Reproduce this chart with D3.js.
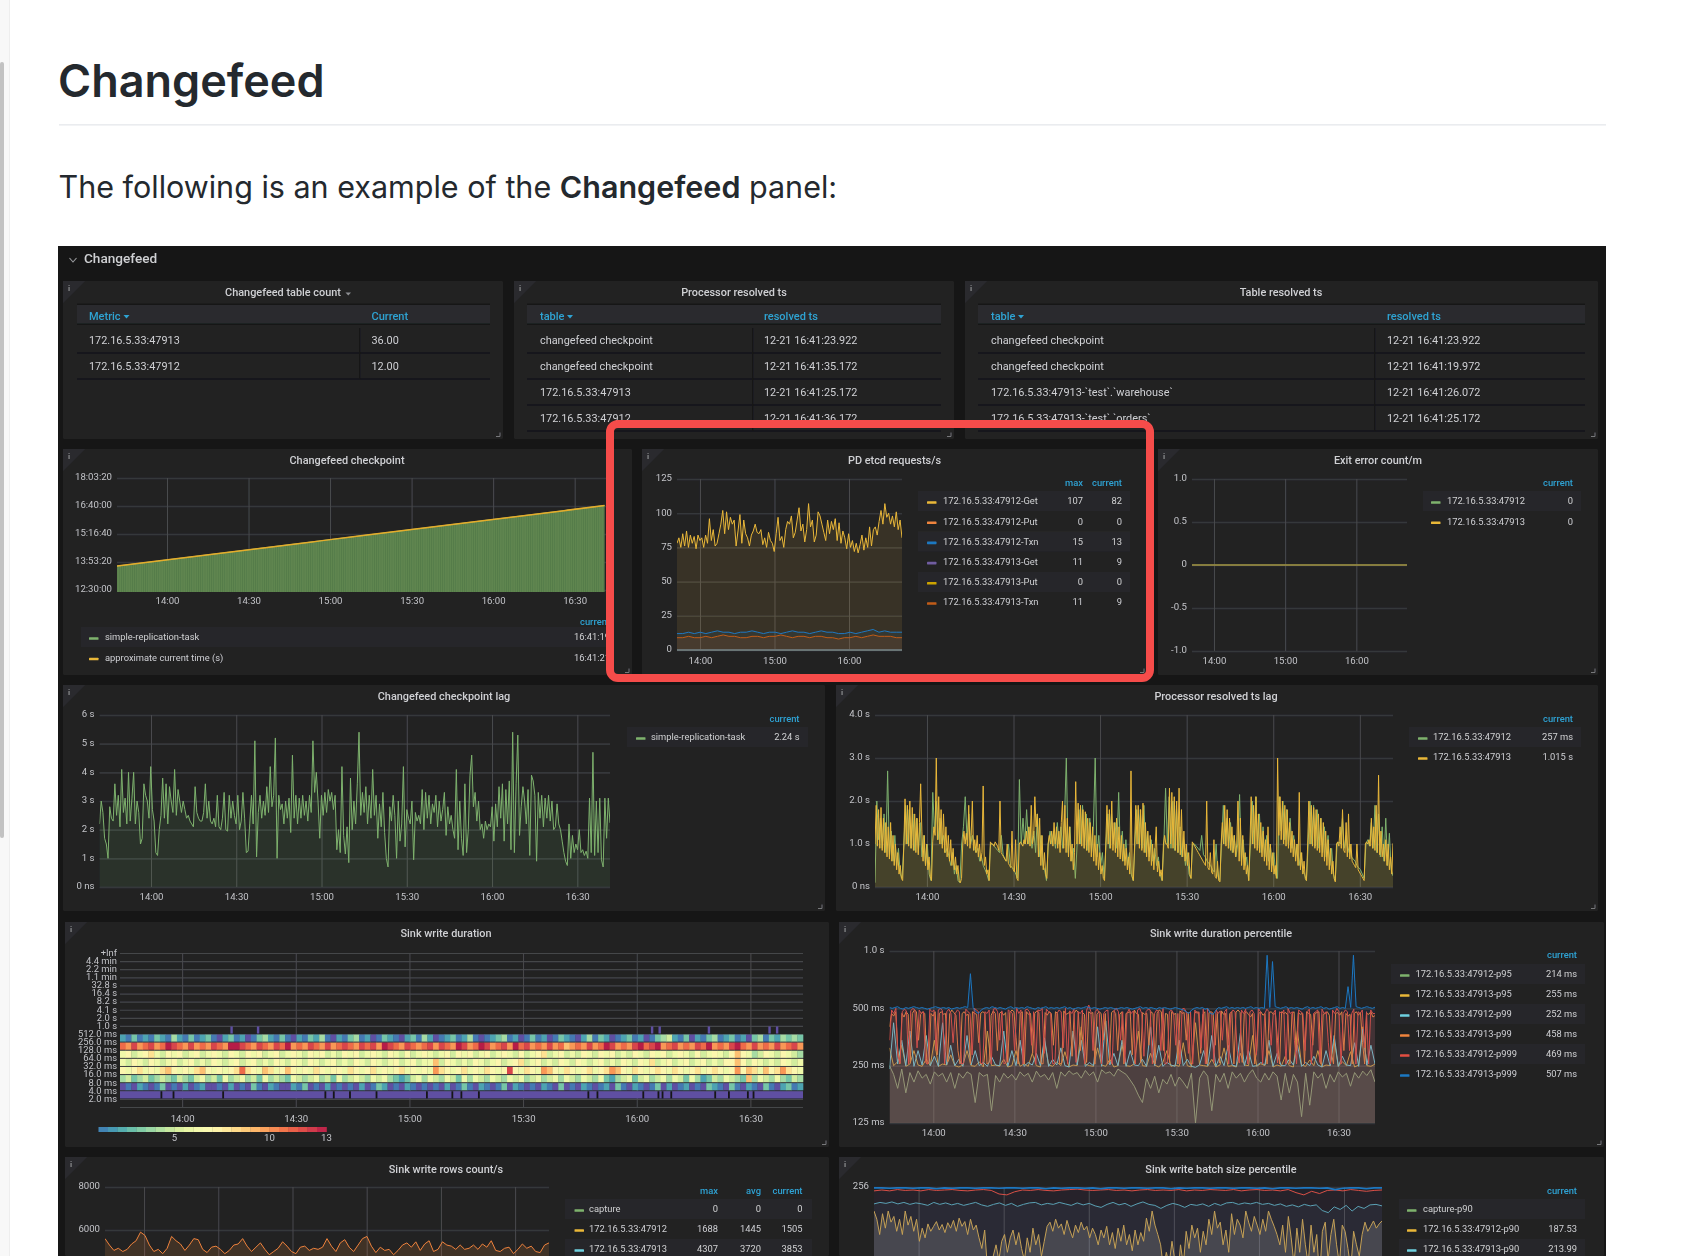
<!DOCTYPE html>
<html><head><meta charset="utf-8">
<script src="https://cdnjs.cloudflare.com/ajax/libs/d3/7.8.5/d3.min.js"></script>
<style>html,body{margin:0;padding:0;background:#fff;overflow:hidden}svg{display:block}text{font-family:Roboto,sans-serif}</style>
</head><body><svg id="c" width="1706" height="1256"></svg>
<script>
// ---------- DATA ----------
const tableCountRows=[["172.16.5.33:47913","36.00"],["172.16.5.33:47912","12.00"]];
const processorRows=[["changefeed checkpoint","12-21 16:41:23.922"],["changefeed checkpoint","12-21 16:41:35.172"],["172.16.5.33:47913","12-21 16:41:25.172"],["172.16.5.33:47912","12-21 16:41:36.172"]];
const tableRows=[["changefeed checkpoint","12-21 16:41:23.922"],["changefeed checkpoint","12-21 16:41:19.972"],["172.16.5.33:47913-`test`.`warehouse`","12-21 16:41:26.072"],["172.16.5.33:47913-`test`.`orders`","12-21 16:41:25.172"]];
const checkpointTask=[49270,50170,51070,51970,52870,53770,54670,55570,56470,57370,58270,59170,60079];
const checkpointNow=[49272,50172,51072,51972,52872,53772,54672,55572,56472,57372,58272,59172,60081];
const etcdGet=[78,82,75,85,76,87,75,84,78,83,74,84,80,82,75,84,78,96,80,88,76,78,85,92,102,85,101,88,97,92,95,76,87,99,78,95,85,82,76,84,87,92,86,85,88,77,82,75,86,80,78,72,85,97,80,83,75,88,94,92,98,82,86,95,104,87,92,79,88,107,90,95,79,84,101,98,92,86,80,95,85,94,88,96,80,93,78,87,82,74,85,75,80,72,78,71,77,84,73,82,75,90,76,88,90,84,94,102,92,107,97,100,92,98,90,101,88,95,82];
const etcdTxn12=[12,12,13,12,13,12,13,14,13,13,12,13,13,14,13,12,13,13,12,13,14,13,13,12,13,14,13,13,12,12,13,12,13,14,15,13,14,13,13,13];
const etcdTxn13=[9,9,10,9,9,10,9,10,11,10,10,9,9,10,10,9,10,10,11,10,9,10,10,9,10,10,9,9,8,9,9,10,9,10,11,10,10,10,9,9];
const etcdZero=[0,0];
const exitErr=[0,0];
const lagTask=[2.2,3.0,2.6,1.7,1.5,1.0,2.8,2.4,2.3,3.6,2.5,3.2,2.1,4.1,2.6,3.1,2.2,4.0,2.3,3.1,4.0,2.2,3.0,2.6,1.5,1.7,3.6,3.2,3.0,2.4,
4.2,2.7,2.3,1.2,1.1,2.0,2.5,3.8,2.4,3.6,2.2,3.5,3.0,2.6,4.1,2.5,3.4,3.0,2.6,3.0,2.7,2.4,2.5,2.3,2.2,2.1,3.5,2.6,2.4,2.3,
2.3,2.6,3.6,2.4,3.0,2.3,2.2,2.4,2.1,3.2,2.1,2.0,2.4,3.3,2.0,1.95,3.2,2.4,3.0,2.5,2.2,3.2,2.0,2.3,3.3,2.4,1.2,1.25,2.2,3.2,
2.2,5.1,1.05,2.6,3.2,2.4,3.0,2.5,3.5,2.6,4.2,2.8,3.2,5.2,1.0,3.2,2.7,2.9,2.2,3.0,2.4,3.1,1.9,4.6,2.4,3.2,2.2,3.1,2.4,3.2,
2.5,3.0,2.3,3.2,2.6,5.1,3.3,4.0,3.0,1.7,3.2,2.5,3.3,2.6,3.4,3.0,3.3,2.7,3.2,1.3,2.0,1.2,4.2,1.8,1.15,2.1,.85,3.8,2.0,3.0,
2.2,3.6,5.4,2.5,3.3,2.6,3.5,2.2,3.2,2.4,4.1,2.5,3.2,1.7,2.9,2.1,3.3,1.9,1.0,.7,2.8,2.3,3.2,2.5,1.0,3.0,1.6,2.2,4.2,1.4,
2.7,2.4,2.2,3.0,.95,2.6,2.3,2.5,2.2,3.4,2.0,3.3,2.4,3.2,2.2,2.9,2.6,3.2,2.1,3.0,2.3,2.7,3.3,1.8,2.8,2.2,2.5,2.0,1.7,4.1,
1.3,3.0,1.7,1.1,3.6,1.2,2.0,3.9,4.6,2.8,3.3,2.3,3.0,2.0,2.2,1.7,2.3,2.0,2.2,2.1,2.8,1.6,2.9,2.1,3.5,2.4,3.6,1.6,3.4,2.2,
3.7,1.3,5.4,1.2,3.6,5.3,1.8,2.8,3.5,3.0,2.2,3.4,1.1,3.9,3.7,3.2,.9,3.3,2.4,3.2,2.1,3.1,2.4,3.2,2.3,3.0,2.0,2.1,2.9,2.2,
2.0,1.6,1.2,.9,.75,2.2,1.0,1.8,1.2,1.5,1.3,2.0,1.2,1.3,1.1,1.25,1.0,3.1,1.2,4.7,1.1,3.0,1.2,3.1,.95,.7,3.1,1.7,3.1,2.24];
const procLag13=[1.0,1.9,0.95,1.8,0.9,1.85,0.85,1.6,0.8,1.5,0.7,1.4,0.65,1.5,0.6,1.2,0.5,1.0,0.4,0.8,0.3,0.5,0.2,0.15,
1.0,2.05,1.0,1.9,0.95,2.0,0.9,1.85,0.85,1.7,0.8,1.6,0.75,1.5,2.4,1.3,0.6,1.2,0.5,1.0,0.4,0.7,0.25,0.15,
1.05,1.4,1.2,3.0,1.1,2.1,1.0,1.8,0.9,1.7,0.8,1.4,0.7,1.2,0.6,1.1,0.5,0.9,0.4,0.7,0.3,0.5,0.15,0.1,
0.2,1.0,1.3,1.0,1.25,0.95,1.9,0.9,1.2,2.0,0.85,1.1,0.8,1.2,0.7,1.0,0.6,0.8,2.35,0.5,0.7,0.3,0.4,0.15,
1.05,1.0,1.0,0.95,1.05,1.0,0.95,0.85,2.0,0.8,0.75,0.7,0.65,0.6,1.0,0.55,0.5,0.45,1.3,0.4,0.35,1.1,0.2,0.15,
1.0,1.05,1.0,0.95,1.1,1.0,1.3,1.0,1.4,0.95,1.9,1.0,1.2,2.1,1.4,1.7,0.7,1.6,0.5,1.2,0.4,0.8,0.3,0.2,
1.0,1.2,1.0,1.3,0.95,1.5,1.0,1.4,0.9,1.3,0.8,1.5,2.0,0.9,1.9,0.8,1.6,0.7,1.4,0.6,1.0,0.4,0.8,2.45,
1.0,1.95,1.0,1.9,0.95,1.8,0.9,1.75,0.85,1.6,0.8,1.5,0.7,1.4,0.6,1.2,0.5,1.0,0.4,0.8,0.3,0.5,0.2,0.15,
1.0,1.9,1.0,1.8,0.9,2.0,0.85,1.5,0.8,1.6,0.7,1.4,0.65,1.2,0.6,1.0,0.5,0.9,0.4,0.7,0.3,2.7,0.25,0.15,
1.0,1.9,1.0,1.9,0.9,1.8,0.85,1.95,0.8,1.5,0.7,1.3,0.6,1.2,0.5,1.0,0.4,0.9,1.4,0.35,0.6,0.25,0.4,0.15,
1.0,1.2,1.0,1.0,0.9,2.3,1.0,2.2,0.9,2.1,0.85,2.0,0.8,2.3,0.75,1.8,0.7,1.3,0.6,1.0,0.5,0.8,0.3,0.2,
1.05,1.0,0.95,0.9,0.85,0.8,0.75,0.7,0.65,0.6,0.55,0.5,2.0,0.45,0.4,0.8,0.35,0.3,1.1,0.25,0.2,0.6,0.15,0.12,
1.0,1.5,1.0,1.9,0.95,1.8,0.9,1.6,0.85,1.4,0.8,1.2,0.7,1.0,2.0,0.6,1.6,0.5,1.2,0.4,0.8,0.3,0.5,0.15,
1.0,2.1,1.0,1.9,0.9,2.1,0.85,1.7,0.8,1.5,0.7,1.3,0.6,1.1,0.5,1.4,0.4,1.0,0.35,0.8,0.3,0.5,0.2,3.0,
1.2,2.1,1.1,2.0,1.0,1.9,0.95,1.8,0.9,1.5,0.8,1.3,0.7,1.1,0.6,1.0,0.5,2.2,0.4,0.8,0.3,0.6,0.2,0.15,
1.0,2.0,1.0,1.9,0.95,1.85,0.9,1.8,0.85,1.7,0.8,1.6,0.7,1.5,0.6,1.3,0.5,1.1,0.4,0.9,0.3,0.6,0.2,0.12,
1.0,1.05,0.95,1.4,0.9,1.8,0.85,0.8,1.5,0.7,1.7,0.65,1.0,0.6,0.55,0.5,0.45,1.0,0.4,0.35,0.3,0.25,0.2,0.15,
1.0,1.05,1.0,1.1,0.95,1.6,0.9,1.4,0.85,1.9,0.8,2.6,0.75,1.3,0.7,1.0,0.6,1.1,0.5,1.0,0.4,0.7,0.3,1.015];
const procLag12=[0.1,2.0,1.1,1.6,0.9,1.7,0.8,2.7,0.7,1.3,0.6,1.2,0.5,0.9,0.3,0.2,
1.0,1.9,1.0,1.8,0.9,1.7,0.85,1.6,0.8,1.5,0.7,1.2,0.5,1.0,0.3,0.15,
2.2,1.3,2.0,1.1,1.6,1.0,1.2,0.8,0.9,0.7,0.5,0.8,0.3,0.5,0.15,0.1,
1.0,1.4,2.1,1.1,1.7,1.0,1.2,0.9,0.8,0.9,0.6,0.7,0.5,0.4,0.3,0.15,
1.0,1.0,0.95,0.9,0.85,0.8,1.2,0.75,0.65,0.6,1.0,0.5,0.45,0.4,0.3,0.2,
2.5,1.0,1.6,1.0,1.8,1.0,1.4,0.9,1.3,0.8,1.7,0.7,1.2,0.5,0.4,0.15,
1.0,1.3,1.0,1.3,0.9,1.5,1.0,1.4,0.9,1.6,3.0,0.8,1.4,0.6,0.9,0.2,
1.0,1.8,1.0,1.9,0.9,1.7,0.85,1.6,0.8,1.4,3.0,0.7,1.2,0.5,0.8,0.2,
1.0,1.7,0.9,1.7,1.0,1.5,0.9,2.2,0.7,1.3,0.6,1.1,0.5,0.8,0.3,0.15,
1.0,1.8,1.0,1.8,0.9,1.9,0.8,1.3,0.7,1.1,0.6,0.9,0.5,0.7,0.3,0.15,
1.0,2.3,1.0,2.1,0.9,2.0,0.85,1.9,0.8,1.4,0.7,1.1,0.5,0.8,0.3,0.2,
1.0,1.0,0.95,0.9,0.85,1.2,0.75,0.7,0.6,0.55,0.5,0.4,0.35,1.0,0.25,0.15,
1.0,1.9,1.0,1.6,0.9,1.5,0.8,1.2,0.7,1.0,2.15,0.6,1.1,0.5,0.7,0.15,
1.0,2.0,1.0,2.1,0.9,1.7,0.8,1.4,0.7,1.2,0.6,1.0,0.5,0.8,0.3,0.2,
2.1,1.3,2.0,1.1,1.8,1.0,1.6,0.9,1.2,0.7,1.0,0.5,0.8,0.4,0.3,0.15,
1.0,2.0,1.0,1.9,0.95,1.8,0.9,1.6,0.8,1.4,0.7,1.2,0.5,0.9,0.3,0.15,
1.0,1.05,1.0,1.6,0.9,1.2,0.8,1.0,0.7,0.65,0.6,0.5,0.45,0.4,0.3,0.2,
1.0,1.1,0.95,1.5,0.9,1.9,0.8,1.7,0.7,1.4,0.6,1.6,0.5,1.25,0.4,0.257];
const sinkP95_12=[250,225,190,240,180,230,205,235,215,225,200,232,220,228,205,230,190,228,215,232,225,160,230,220,225,145,222,205,228,215,225,210,232,220,228,205,234,218,225,210,230,190,232,220,235,225,230,215,236,222,232,205,238,228,232,220,240,232,225,210,195,175,160,215,190,220,180,212,200,225,195,218,205,190,228,125,215,235,220,145,225,205,228,190,232,215,228,205,225,238,215,205,228,210,232,220,165,228,180,225,205,135,228,155,232,215,228,190,225,205,232,218,228,195,230,215,234,222,238,205];
const sinkP95_13=[310,250,262,320,248,255,300,252,248,270,250,340,248,255,252,285,250,246,252,300,250,248,262,246,380,250,252,248,270,246,250,300,248,256,248,290,250,246,340,252,248,262,250,296,246,252,250,400,255,250,248,310,252,248,270,246,250,320,250,248,256,380,250,248,290,252,246,260,300,248,252,248,330,250,246,420,252,250,248,270,246,252,310,248,250,246,290,252,250,360,248,256,250,300,246,252,248,280,250,246,380,252,248,268,250,300,246,252,250,340,248,262,250,296,246,252,400,250,248,255];
const sinkP99_12=[240,420,255,340,250,380,248,300,252,360,250,280,248,420,252,320,250,270,248,360,252,300,250,260,248,280,252,250,380,248,300,250,340,248,260,252,290,250,350,248,270,252,310,250,246,380,252,340,248,260,250,400,248,430,252,290,250,340,248,300,252,250,270,248,400,250,320,248,260,252,248,340,250,270,248,245,252,300,250,360,248,280,250,320,252,248,370,250,300,248,250,260,252,340,248,290,250,250,270,252,320,248,260,250,280,252,246,300,250,360,248,280,252,250,330,248,390,252,320,255];
const sinkP99_13=[400,470,455,480,300,255,470,450,480,465,260,470,490,480,340,465,480,470,255,258,470,455,480,285,470,480,465,470,262,468,490,475,460,300,255,470,480,460,465,255,480,470,465,330,472,480,470,255,260,460,485,470,300,470,480,460,475,260,475,490,480,350,255,470,480,255,480,465,470,290,470,485,475,258,255,475,460,480,470,320,480,470,255,258,485,465,470,480,280,470,490,475,300,475,465,260,480,470,475,255,465,480,470,340,470,255,260,475,485,470,300,465,480,255,470,475,480,285,490,470,465,260,475,465,470,320,480,470,255,470,490,480,300,470,465,260,480,465,470,255,485,470,475,340,475,255,258,470,480,475,290,465,480,255,475,480,470,320,470,258,485,465,470,300,470,480,255,478,490,475,260,470,480,465,450,470,255,300,470,480,460,470,255,475,480,465,470,340,255,480,470,475,460,255,470,480,300,475,465,470,255,480,470,465,320,470,475,480,255,465,470,480,460,290,255,470,475,460,480,300,470,455,465,255,470,480,460,475,330,255,470,465,480,450,458];
const sinkP999_12=[340,490,470,500,280,258,480,495,485,255,485,500,490,310,490,470,480,260,255,495,480,490,300,490,500,485,255,480,495,470,330,470,490,480,255,258,495,480,470,285,500,490,480,258,255,480,470,490,255,495,500,480,340,485,255,260,490,480,470,300,500,470,490,255,490,495,480,320,480,255,490,485,500,290,495,480,470,255,258,470,490,480,310,500,255,485,470,495,260,480,470,490,255,490,520,480,300,480,495,470,255,470,485,490,300,255,490,500,480,340,480,260,470,495,470,485,255,490,500,470,280,480,495,490,255,470,490,480,300,500,255,258,480,490,470,320,470,255,495,500,480,290,480,255,490,470,480,310,495,255,500,480,470,260,490,470,485,340,480,495,255,470,490,480,300,258,490,470,495,255,480,490,470,285,500,480,255,470,495,480,320,470,490,258,480,470,490,255,500,470,480,340,255,490,480,470,300,480,495,255,470,480,490,260,495,470,480,330,255,490,470,500,480,255,470,490,480,300,470,495,255,480,470,490,310,480,255,490,470,469];
const sinkP999_13=[505,500,505,510,500,495,505,500,505,510,505,500,505,500,495,500,505,510,505,500,505,500,505,495,500,505,500,505,510,505,760,505,480,470,490,500,505,500,510,505,500,505,500,495,505,510,500,505,500,505,500,510,505,500,495,505,500,505,510,500,505,500,505,500,505,510,500,505,495,500,505,500,505,510,505,500,505,500,495,500,505,500,505,500,495,500,505,500,505,500,495,500,505,510,500,505,500,505,500,495,505,500,505,500,495,500,505,500,495,490,480,470,490,500,505,500,505,495,500,470,465,490,505,500,505,510,500,505,500,505,500,505,500,505,510,500,505,500,505,500,950,505,880,510,505,500,505,510,500,505,500,505,500,495,505,510,500,505,500,505,510,500,505,495,500,505,510,500,505,500,650,505,950,510,505,500,505,510,505,500,507];
const batch256=[254,254,253,254,254,253,254,254,252,254,253,254,254,253,254,254,253,254,254,253,254,254,252,254,253,254,254,253,254,252,254,254,253,254,254,253,254,254,252,254,253,254,254,253,254,254,253,254,254,253,254,252,254,254,253,254,254,253,254,250,253,254,254,252,254,254];
const batchRed=[247,249,247,250,248,249,247,250,248,249,250,248,247,249,250,248,240,238,245,249,248,250,248,247,249,250,251,249,248,249,250,248,249,247,249,250,248,249,248,250,247,249,248,250,249,248,250,247,249,250,248,249,247,250,243,238,246,241,248,249,247,250,248,246,248,249];
const batchTeal=[219,222,220,223,219,222,218,221,219,216,222,218,221,217,220,216,219,222,217,214,218,221,216,220,214,218,221,222,217,220,218,222,219,216,221,217,220,215,212,218,222,217,220,214,219,223,218,216,210,216,220,217,212,218,216,219,214,220,216,221,222,218,221,219,222,218,220,216,219,214,217,213,218,215,217,206,202,213,208,216,205,214,210,217,218,215];
const batchP90_12=[205,190,165,200,175,205,185,195,170,190,165,205,180,195,170,190,155,175,160,182,170,178,186,172,181,168,184,175,188,170,192,178,186,165,190,172,180,160,145,172,120,110,135,150,130,155,165,140,160,172,150,168,145,130,160,140,175,150,165,135,155,178,185,170,190,175,182,165,188,172,160,180,168,185,172,178,160,175,165,150,172,160,178,150,168,145,175,155,180,150,165,142,172,150,168,155,192,170,205,180,165,150,120,140,125,155,130,110,150,125,170,145,180,160,175,140,170,150,190,165,205,175,185,150,172,140,200,165,190,180,160,205,185,170,195,180,165,190,170,205,190,178,165,150,180,140,195,160,125,175,140,190,150,125,180,140,165,110,170,185,130,165,190,150,125,180,170,145,120,170,150,135,165,185,170,178,187,175,182,187];
const sinkRowsOrange=[5600,5300,5050,5150,5000,5100,5350,5500,5900,5750,5300,5000,5100,4900,5150,5700,5500,5350,5050,5300,5600,5550,5100,4950,5200,5250,5100,4900,5050,5300,5350,5600,5250,5000,5200,5400,5100,4850,5000,5150,5450,5250,5000,4900,5200,5250,5050,5150,5100,5200,5600,5250,5000,5400,5550,5200,5000,5300,5600,5700,5250,4950,5200,5050,5100,4850,5050,5300,5400,5200,5450,5050,5350,5500,5000,5100,5450,5300,5250,5100,5300,5100,5150,5300,5100,5350,5200,5500,5050,5000,5150,5200,4900,5100,5350,5150,5250,5000,4950,5300,5400];
const heat512=[2,1,3,1,2,1,3,2,1,4,2,1,3,1,2,3,1,0,2,3,1,2,0,1,3,4,2,1,3,1,0,2,1,3,2,4,1,0,2,1,3,4,1,2,0,1,3,2,1,0,2,3,1,4,2,0,1,2,3,1,2,4,1,0,1,2,3,4,1,2,0,1,3,1,2,0,1,3,2,1,0,2,4,1,3,2,0,1,2,3,1,2,0,1,3,4,5,2,1,3,0,2,1,3,4,1,2,3,1,2,0,3,4,1,3,2,4,3,4,3];
const heat256=[11,10,12,10,11,12,10,11,13,12,11,10,12,10,11,10,12,11,10,13,13,12,11,10,12,11,10,12,11,13,10,11,10,12,11,10,12,10,11,12,11,10,12,11,12,10,13,12,11,10,12,11,10,11,12,10,12,11,10,13,12,10,11,13,12,10,11,12,10,13,11,12,10,11,10,12,10,11,9,10,11,10,12,10,11,13,12,10,11,10,12,13,11,12,13,10,11,12,10,11,10,12,11,13,10,11,10,12,13,11,10,12,10,11,10,12,10,11,12,10];
const heat128=[6,7,5,6,7,8,6,5,7,6,7,5,6,7,5,6,7,6,5,7,6,5,7,6,7,5,6,7,5,6,7,6,5,7,6,7,5,6,5,7,6,7,5,6,7,6,5,7,6,5,7,5,6,7,6,5,6,7,5,7,6,7,5,6,7,5,6,7,6,5,7,5,6,7,8,5,6,7,5,6,5,7,6,5,7,6,7,5,6,5,7,6,5,7,6,7,5,6,7,6,5,7,5,6,7,6,5,7,9,7,6,4,5,7,6,5,7,6,5,4];
const heat64=[6,5,7,6,5,7,6,5,6,7,5,6,7,5,6,5,7,6,5,6,7,5,6,7,5,6,5,7,6,5,7,6,5,7,6,5,6,7,5,6,5,7,6,5,7,6,5,6,7,5,6,7,5,6,6,9,5,7,6,5,6,5,7,6,5,6,7,5,6,7,8,5,6,7,5,6,5,7,6,5,7,6,5,6,7,5,6,5,7,6,5,7,6,8,5,6,7,5,6,7,5,6,7,5,6,5,7,7,9,7,5,7,6,5,6,5,7,6,5,6];
const heat32=[7,6,7,8,6,7,6,8,9,7,6,7,6,8,9,7,6,7,6,7,8,11,8,7,6,9,8,6,7,9,7,6,7,6,8,7,6,7,7,6,8,7,6,7,8,6,7,6,7,8,6,7,6,7,6,10,8,7,6,7,8,6,7,6,8,7,6,7,12,7,6,8,7,6,10,9,7,6,8,7,6,7,8,6,7,8,10,9,7,6,8,7,6,7,8,7,6,8,7,6,7,8,6,7,8,7,6,7,10,7,9,8,6,9,7,8,10,8,7,6];
const heat16=[4,5,3,4,5,3,4,5,4,3,5,4,3,5,6,4,5,3,6,4,5,6,4,5,3,6,4,5,4,3,6,5,4,5,6,4,5,3,6,4,5,6,5,4,6,5,6,4,3,2,3,5,6,4,6,5,4,6,5,3,6,4,6,5,4,6,5,4,6,5,6,4,5,6,4,5,6,4,6,5,4,6,5,4,6,3,2,4,5,6,3,5,6,4,5,6,4,6,5,3,6,4,2,3,5,4,6,5,4,3,9,4,6,5,4,6,4,3,5,4];
const heat8=[0,1,0,2,1,0,1,3,0,1,0,2,0,1,2,0,0,1,0,2,0,1,0,3,1,0,2,1,0,0,2,1,3,0,1,0,2,0,1,0,1,0,2,0,1,3,2,0,1,0,2,1,0,1,0,1,0,2,0,1,3,1,0,2,1,0,1,3,0,2,1,0,1,0,2,1,0,3,0,1,0,2,1,0,1,2,0,3,1,0,2,1,0,1,3,0,2,0,1,2,0,1,0,3,2,1,0,3,1,0,2,1,0,3,1,0,2,3,1,2];
const heat1sTimes=["14:13","14:20","16:04","16:06","16:19","16:35","16:37"];
const heat4msGaps=["13:54.5","13:57.7","14:10.8","14:37.8","14:40","14:44.3","14:51.3","15:04.6","15:11.3","15:13.7","15:18.3","15:47.2","15:49.6","16:01.7","16:05.7","16:06.8","16:09.1","16:20.7","16:24.3","16:29.3","16:30.8"];
const heatLabels=["+Inf","4.4 min","2.2 min","1.1 min","32.8 s","16.4 s","8.2 s","4.1 s","2.0 s","1.0 s","512.0 ms","256.0 ms","128.0 ms","64.0 ms","32.0 ms","16.0 ms","8.0 ms","4.0 ms","2.0 ms",""];
const halfHourTicks=["14:00","14:30","15:00","15:30","16:00","16:30"];
const hourTicks=["14:00","15:00","16:00"];
const etcdLegend=[["172.16.5.33:47912-Get","107","82"],["172.16.5.33:47912-Put","0","0"],["172.16.5.33:47912-Txn","15","13"],["172.16.5.33:47913-Get","11","9"],["172.16.5.33:47913-Put","0","0"],["172.16.5.33:47913-Txn","11","9"]];
const percentileLegend=[["172.16.5.33:47912-p95","214 ms"],["172.16.5.33:47913-p95","255 ms"],["172.16.5.33:47912-p99","252 ms"],["172.16.5.33:47913-p99","458 ms"],["172.16.5.33:47912-p999","469 ms"],["172.16.5.33:47913-p999","507 ms"]];
const rowsLegend=[["capture","0","0","0"],["172.16.5.33:47912","1688","1445","1505"],["172.16.5.33:47913","4307","3720","3853"]];
const batchLegend=[["capture-p90",""],["172.16.5.33:47912-p90","187.53"],["172.16.5.33:47913-p90","213.99"]];
// ---------- STYLE ----------
const GREEN="#7eb26d",YEL="#eab839",TEAL="#6ed0e0",ORG="#ef843c",RED="#e24d42",BLUE="#1f78c1",PUR="#705da0",DYEL="#cca300",DORG="#c15c17";
const HEAD="#2fa3d3",TXT="#d0d1d3",TICK="#c4c5c7",PANEL="#212124",ALT="#28282b";
const svg=d3.select("#c");
const defs=svg.append("defs");
const f=defs.append("filter").attr("id","soft").attr("filterUnits","userSpaceOnUse").attr("x",0).attr("y",0).attr("width",1706).attr("height",1256);
f.append("feGaussianBlur").attr("stdDeviation",0.65);
const pat=defs.append("pattern").attr("id","bars").attr("width",2.2).attr("height",4).attr("patternUnits","userSpaceOnUse");
pat.append("rect").attr("width",2.2).attr("height",4).attr("fill","#5f8650");
pat.append("rect").attr("width",0.8).attr("height",4).attr("fill","#537a48");
const ff="Inter,sans-serif";
// page chrome
svg.append("rect").attr("width",9).attr("height",1256).attr("fill","#f8f8f8");
svg.append("rect").attr("x",9).attr("width",1).attr("height",1256).attr("fill","#eeeeee");
svg.append("rect").attr("y",62).attr("width",4).attr("height",776).attr("rx",2).attr("fill","#c2c2c2");
svg.append("text").attr("x",58).attr("y",97).style("font-family",ff).style("font-size","45px").style("font-weight",600).attr("fill","#24292e").text("Changefeed");
svg.append("rect").attr("x",59).attr("y",124).attr("width",1547).attr("height",1.6).attr("fill","#eaecef");
const para=svg.append("text").attr("x",58.5).attr("y",198).style("font-family",ff).style("font-size","30.5px").attr("fill","#24292e");
para.append("tspan").text("The following is an example of the ");
para.append("tspan").style("font-weight",600).text("Changefeed");
para.append("tspan").text(" panel:");
// dashboard
const dash=svg.append("g").attr("filter","url(#soft)");
dash.append("rect").attr("x",58).attr("y",246).attr("width",1548).attr("height",1010).attr("fill","#161719");
dash.append("path").attr("d","M69.5 258l3.5 4 3.5-4").attr("fill","none").attr("stroke","#9a9b9d").attr("stroke-width",1.1);
dash.append("text").attr("x",84).attr("y",263).attr("fill",TXT).style("font-size","13.6px").style("font-weight",500).text("Changefeed");
function panel(x0,y0,x1,y1){
  dash.append("rect").attr("x",x0).attr("y",y0).attr("width",x1-x0).attr("height",y1-y0).attr("rx",1.5).attr("fill",PANEL);
  dash.append("path").attr("d",`M${x0} ${y0}h22l-22 22z`).attr("fill","#2b2c2f");
  dash.append("text").attr("x",x0+6).attr("y",y0+10).attr("text-anchor","middle").attr("fill","#8e8f91").style("font-size","8px").style("font-weight",700).text("i");
  if(y1<1256) dash.append("path").attr("d",`M${x1-7} ${y1-2.5}h4v-4`).attr("fill","none").attr("stroke","#77787a").attr("stroke-width",1);
}
function title(t,x,y){dash.append("text").attr("x",x).attr("y",y).attr("text-anchor","middle").attr("fill",TXT).style("font-size","10.9px").style("font-weight",500).text(t);}
function table(o){
  dash.append("rect").attr("x",o.x0).attr("y",305).attr("width",o.x1-o.x0).attr("height",19).attr("fill","#2a2b2e");
  dash.append("rect").attr("x",o.x0).attr("y",303.5).attr("width",o.x1-o.x0).attr("height",1.5).attr("fill","#151618");
  dash.append("rect").attr("x",o.x0).attr("y",323.5).attr("width",o.x1-o.x0).attr("height",1.5).attr("fill","#151618");
  dash.append("text").attr("x",o.textX).attr("y",320).attr("fill",HEAD).style("font-size","11px").style("font-weight",500).text(o.h1);
  dash.append("path").attr("d",`M${o.caretX} 315h6l-3 3.6z`).attr("fill",HEAD);
  dash.append("text").attr("x",o.valX).attr("y",320).attr("fill",HEAD).style("font-size","11px").style("font-weight",500).text(o.h2);
  const yy=d3.scaleLinear().domain([0,1]).range([344,370]);
  o.rows.forEach((r,i)=>{
    dash.append("text").attr("x",o.textX).attr("y",yy(i)).attr("fill",TXT).style("font-size","10.9px").text(r[0]);
    dash.append("text").attr("x",o.valX).attr("y",yy(i)).attr("fill",TXT).style("font-size","10.9px").text(r[1]);
    dash.append("rect").attr("x",o.x0).attr("y",yy(i)+8.3).attr("width",o.x1-o.x0).attr("height",1.4).attr("fill","#151618");
  });
  dash.append("rect").attr("x",o.sepX).attr("y",328).attr("width",1.2).attr("height",o.rows.length*26-1).attr("fill","#151618");
}
function legend(o){
  const yr=d3.scaleLinear().domain([0,1]).range([o.y0,o.y0+o.step]);
  o.heads.forEach((h,j)=>dash.append("text").attr("x",o.rights[j]).attr("y",o.headY).attr("text-anchor","end").attr("fill",HEAD).style("font-size","9.4px").style("font-weight",500).text(h));
  o.rows.forEach((r,i)=>{
    const cy=yr(i);
    if(i%2===0) dash.append("rect").attr("x",o.x0).attr("y",cy-10).attr("width",o.x1-o.x0).attr("height",20).attr("fill",ALT);
    dash.append("rect").attr("x",o.sw).attr("y",cy+0.2).attr("width",9.5).attr("height",2.6).attr("rx",.6).attr("fill",o.colors[i]);
    dash.append("text").attr("x",o.tx).attr("y",cy+3.3).attr("fill",TXT).style("font-size","9.35px").text(r[0]);
    o.rights.forEach((rx,j)=>dash.append("text").attr("x",rx).attr("y",cy+3.3).attr("text-anchor","end").attr("fill",TXT).style("font-size","9.35px").text(r[j+1]));
  });
}
const T=s=>{const [h,m]=s.split(":");return new Date(Date.UTC(2020,11,21,+h,Math.floor(+m),(+m%1)*60));};
let clipN=0;
function graph(o){
  const x=d3.scaleUtc().domain([T(o.t0),T(o.t1)]).range([o.left,o.right]);
  const y=(o.log?d3.scaleLog().base(2):d3.scaleLinear()).domain(o.yDomain).range(o.yRange);
  const bottom=o.yRange[0],top=o.yRange[1],w=o.right-o.left;
  const g=dash.append("g");
  const ya=d3.axisLeft(y).tickValues(o.yTicks).tickFormat(o.yFmt).tickSize(-w).tickPadding(5);
  const yg=g.append("g").attr("transform",`translate(${o.left},0)`).call(ya);
  yg.select(".domain").remove();
  yg.selectAll("line").attr("stroke","#36373a").attr("stroke-width",1.6);
  yg.selectAll("text").attr("dy",".2em").attr("fill",TICK).style("font-size","9.6px").style("font-family","Roboto,sans-serif");
  const ticks=o.xTicks.map(T);
  const xa=d3.axisBottom(x).tickValues(ticks).tickFormat(o.labelY?d3.utcFormat("%H:%M"):"").tickSize(-(bottom-top));
  const xg=g.append("g").attr("transform",`translate(0,${bottom})`).call(xa);
  xg.select(".domain").remove();
  xg.selectAll("line").attr("stroke","#4a4b4e").attr("stroke-width",1);
  if(o.labelY) xg.selectAll("text").attr("y",o.labelY-bottom).attr("dy",0).attr("fill",TICK).style("font-size","9.6px").style("font-family","Roboto,sans-serif");
  else xg.selectAll("text").remove();
  const id="cp"+(clipN++);
  defs.append("clipPath").attr("id",id).append("rect").attr("x",o.left).attr("y",top-2).attr("width",w).attr("height",bottom-top+4);
  const c=g.append("g").attr("clip-path",`url(#${id})`);
  (o.series||[]).forEach(s=>{
    const pts=s.values.map((v,i,a)=>[+T(o.t0s||o.t0)+(+T(o.t1s||o.t1)-+T(o.t0s||o.t0))*i/(a.length-1),v]);
    const base=o.log?bottom:y(0);
    if(s.fill) c.append("path").attr("d",d3.area().x(d=>x(d[0])).y0(base).y1(d=>y(d[1]))(pts)).attr("fill",s.fill).attr("fill-opacity",s.fo===undefined?1:s.fo);
    if(s.color) c.append("path").attr("d",d3.line().x(d=>x(d[0])).y(d=>y(d[1]))(pts)).attr("fill","none").attr("stroke",s.color).attr("stroke-width",s.sw||1);
  });
}
// --- row 1
panel(63,281,503,439);panel(514,281,954,439);panel(965,281,1598,439);
title("Changefeed table count",283,296);
dash.append("path").attr("d","M345.5 292.5h5.5l-2.7 3z").attr("fill","#8e8f91");
title("Processor resolved ts",734,296);title("Table resolved ts",1281,296);
table({x0:77,x1:490,textX:89,valX:371.5,sepX:359,h1:"Metric",caretX:123.5,h2:"Current",rows:tableCountRows});
table({x0:527,x1:941,textX:540,valX:764,sepX:752,h1:"table",caretX:567,h2:"resolved ts",rows:processorRows});
table({x0:978,x1:1585,textX:991,valX:1387,sepX:1374,h1:"table",caretX:1018,h2:"resolved ts",rows:tableRows});
// --- row 2
panel(63,449,632,675);panel(642,449,1147,675);panel(1158,449,1598,675);
title("Changefeed checkpoint",347,464);
graph({left:117,right:610,t0:"13:41.6",t1:"16:43",t0s:"13:41.6",t1s:"16:41",yDomain:[45000,65000],yRange:[590,478],yTicks:[45000,50000,55000,60000,65000],
  yFmt:v=>d3.utcFormat("%H:%M:%S")(new Date(v*1000)),xTicks:halfHourTicks,labelY:604,
  series:[{values:checkpointTask,fill:"url(#bars)",color:GREEN},{values:checkpointNow,color:"#e5ac2a",sw:1.5}]});
legend({x0:81,x1:609,sw:89,tx:105,y0:637,step:20.5,headY:625,heads:["current"],rights:[610],colors:[GREEN,YEL],rows:[["simple-replication-task","16:41:19"],["approximate current time (s)","16:41:21"]]});
title("PD etcd requests/s",894.5,464);
graph({left:677,right:902,t0:"13:41.5",t1:"16:42.7",yDomain:[0,125],yRange:[650,479],yTicks:[0,25,50,75,100,125],yFmt:d=>d,xTicks:hourTicks,labelY:664,
  series:[{values:etcdGet,color:YEL,fill:YEL,fo:.12},{values:etcdZero,color:ORG},{values:etcdTxn12,color:BLUE,fill:BLUE,fo:.07},{values:etcdZero,color:PUR},{values:etcdZero,color:DYEL},{values:etcdTxn13,color:DORG,fill:DORG,fo:.12},{values:etcdZero,color:"#55708a",sw:1.6}]});
legend({x0:918,x1:1130,sw:927,tx:943,y0:501,step:20.2,headY:486,heads:["max","current"],rights:[1083,1122],colors:[YEL,ORG,BLUE,PUR,DYEL,DORG],rows:etcdLegend});
title("Exit error count/m",1378,464);
graph({left:1192,right:1407,t0:"13:41.5",t1:"16:42.7",yDomain:[-1,1],yRange:[651,479],yTicks:[-1,-.5,0,.5,1],yFmt:d=>d===0?"0":d3.format(".1f")(d).replace("−","-"),xTicks:hourTicks,labelY:664,
  series:[{values:exitErr,color:GREEN},{values:exitErr,color:"#97803a",sw:1.3}]});
legend({x0:1423,x1:1581,sw:1431,tx:1447,y0:501,step:20.2,headY:486,heads:["current"],rights:[1573],colors:[GREEN,YEL],rows:[["172.16.5.33:47912","0"],["172.16.5.33:47913","0"]]});
// --- row 3
panel(63,685,825,911);panel(836,685,1598,911);
title("Changefeed checkpoint lag",444,700);
graph({left:99.5,right:610,t0:"13:41.9",t1:"16:41.5",yDomain:[0,6],yRange:[887,715],yTicks:[0,1,2,3,4,5,6],yFmt:d=>d===0?"0 ns":d+" s",xTicks:halfHourTicks,labelY:900,
  series:[{values:lagTask,color:GREEN,fill:GREEN,fo:.12}]});
legend({x0:627,x1:808,sw:636,tx:651,y0:737,step:20,headY:722,heads:["current"],rights:[799.5],colors:[GREEN],rows:[["simple-replication-task","2.24 s"]]});
title("Processor resolved ts lag",1216,700);
graph({left:875,right:1393,t0:"13:42",t1:"16:41.5",yDomain:[0,4],yRange:[887,715],yTicks:[0,1,2,3,4],yFmt:d=>d===0?"0 ns":d.toFixed(1)+" s",xTicks:halfHourTicks,labelY:900,
  series:[{values:procLag12,color:GREEN,fill:GREEN,fo:.1},{values:procLag13,color:YEL,fill:YEL,fo:.14}]});
legend({x0:1409,x1:1581,sw:1418,tx:1433,y0:737,step:20,headY:722,heads:["current"],rights:[1573],colors:[GREEN,YEL],rows:[["172.16.5.33:47912","257 ms"],["172.16.5.33:47913","1.015 s"]]});
// --- row 4
panel(65,922,829,1147);panel(839,922,1604,1147);
title("Sink write duration",446,937);
(function(){
  const L=120,R=803;
  const x=d3.scaleUtc().domain([T("13:43.6"),T("16:43.9")]).range([L,R]);
  const y=d3.scalePoint().domain(heatLabels).range([953,1107]);
  const g=dash.append("g");
  const ya=d3.axisLeft(y).tickSize(-(R-L)).tickPadding(3);
  const yg=g.append("g").attr("transform",`translate(${L},0)`).call(ya);
  yg.select(".domain").remove();
  yg.selectAll("line").attr("stroke","#45464a").attr("stroke-width",1.2);
  yg.selectAll("text").attr("dy",".25em").attr("fill",TICK).style("font-size","9.4px").style("font-family","Roboto,sans-serif");
  const xa=d3.axisBottom(x).tickValues(halfHourTicks.map(T)).tickFormat(d3.utcFormat("%H:%M")).tickSize(-(1107-953));
  const xg=g.append("g").attr("transform","translate(0,1107)").call(xa);
  xg.select(".domain").remove();
  xg.selectAll("line").attr("stroke","#4a4b4e");
  xg.selectAll("text").attr("y",15).attr("dy",0).attr("fill",TICK).style("font-size","9.6px").style("font-family","Roboto,sans-serif");
  const col=v=>d3.interpolateSpectral(1-v/13.6);
  const bands=[["512.0 ms",heat512],["256.0 ms",heat256],["128.0 ms",heat128],["64.0 ms",heat64],["32.0 ms",heat32],["16.0 ms",heat16],["8.0 ms",heat8]];
  const band=d3.scaleBand().range([L,R]);
  bands.forEach(([lab,vals])=>{
    band.domain(d3.range(vals.length));
    dash.append("g").selectAll("rect").data(vals).join("rect").attr("x",(d,i)=>band(i)).attr("y",y(lab)+.5).attr("width",band.bandwidth()+.3).attr("height",y.step()-1).attr("fill",d=>col(d));
  });
  const h=y.step();
  dash.append("rect").attr("x",L).attr("y",y("4.0 ms")+.5).attr("width",R-L).attr("height",h-1).attr("fill",col(0));
  dash.append("g").selectAll("rect").data(heat4msGaps).join("rect").attr("x",d=>x(T(d))-.8).attr("y",y("4.0 ms")+.5).attr("width",1.8).attr("height",h-1).attr("fill","#141416");
  dash.append("g").selectAll("rect").data(heat1sTimes).join("rect").attr("x",d=>x(T(d))-1).attr("y",y("1.0 s")+.5).attr("width",2.4).attr("height",h-1).attr("fill",col(0));
  const lx=d3.scaleLinear().domain([1,13]).range([98.5,326.5]);
  const steps=d3.range(1,13,.5);
  dash.append("g").selectAll("rect").data(steps).join("rect").attr("x",d=>lx(d)).attr("y",1127).attr("width",lx(1.5)-lx(1)+.3).attr("height",5).attr("fill",d=>col(d+.25));
  dash.append("g").selectAll("text").data([5,10,13]).join("text").attr("x",d=>lx(d)).attr("y",1141).attr("text-anchor","middle").attr("fill",TICK).style("font-size","9.6px").text(d=>d);
})();
title("Sink write duration percentile",1221,937);
graph({left:889.5,right:1375,t0:"13:43.8",t1:"16:43.5",log:true,yDomain:[125,1000],yRange:[1123,951],yTicks:[125,250,500,1000],yFmt:d=>d>=1000?"1.0 s":d+" ms",xTicks:halfHourTicks,labelY:1136,
  series:[{values:sinkP95_12,color:"#8fa878",fill:"#9aa08c",fo:.14},{values:sinkP95_13,color:"#d9a83c",fill:YEL,fo:.05},{values:sinkP99_12,color:TEAL,fill:TEAL,fo:.08},{values:sinkP99_13,color:ORG,fill:ORG,fo:.08},{values:sinkP999_12,color:RED,fill:RED,fo:.12},{values:sinkP999_13,color:BLUE,fill:BLUE,fo:.08}]});
legend({x0:1391,x1:1585,sw:1400,tx:1415.5,y0:974,step:20,headY:958,heads:["current"],rights:[1577],colors:[GREEN,YEL,TEAL,ORG,RED,BLUE],rows:percentileLegend});
// --- row 5
panel(65,1157,829,1256);panel(839,1157,1604,1256);
title("Sink write rows count/s",446,1173);
graph({left:105,right:549,t0:"13:44.2",t1:"16:43.7",yDomain:[0,8000],yRange:[1359,1187],yTicks:[6000,8000],yFmt:d=>d,xTicks:halfHourTicks,
  series:[{values:sinkRowsOrange,color:ORG,fill:ORG,fo:.16}]});
legend({x0:565,x1:812,sw:574.5,tx:589,y0:1209,step:20,headY:1194,heads:["max","avg","current"],rights:[718,761,802.5],colors:[GREEN,YEL,TEAL],rows:rowsLegend});
title("Sink write batch size percentile",1221,1173);
graph({left:874,right:1382,t0:"13:44.3",t1:"16:43.4",log:true,yDomain:[32,256],yRange:[1412,1187],yTicks:[256],yFmt:d=>d,xTicks:halfHourTicks,
  series:[{values:batchP90_12,color:"#d2a84a",fill:"#ffffff",fo:.14},{values:batchTeal,color:"#5aa5b8",fill:"#7a8fc0",fo:.07},{values:batchRed,color:RED,fill:RED,fo:.03},{values:batch256,color:BLUE,fill:BLUE,fo:.04,sw:1.6}]});
legend({x0:1399,x1:1585,sw:1407,tx:1423,y0:1209,step:20,headY:1194,heads:["current"],rights:[1577],colors:[GREEN,YEL,TEAL],rows:batchLegend});
// --- highlight
svg.append("rect").attr("x",610).attr("y",424).attr("width",540).attr("height",254).attr("rx",8).attr("fill","none").attr("stroke","#f64c4a").attr("stroke-width",8);
</script></body></html>
